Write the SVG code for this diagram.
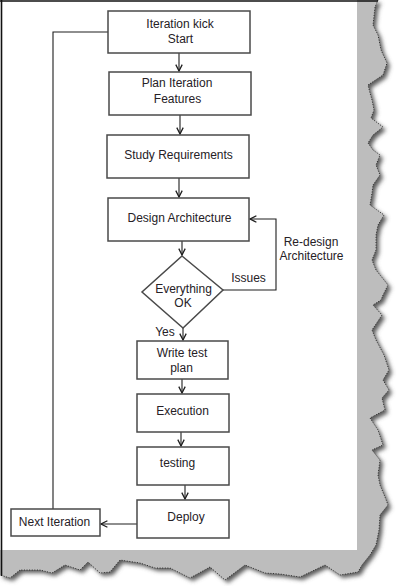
<svg xmlns="http://www.w3.org/2000/svg" width="400" height="586" viewBox="0 0 400 586">
<defs>
<style>
.box{fill:#fff;stroke:#4a4a4a;stroke-width:1.5}
.t{font-family:"Liberation Sans",Arial,sans-serif;font-size:12px;fill:#262126;text-anchor:middle}
.c{fill:none;stroke:#1e1e1e;stroke-width:1.1}
.edge{fill:none;stroke:#222;stroke-width:0.9;stroke-dasharray:1 1.6}
</style>
<marker id="ah" viewBox="0 0 10 10" refX="9" refY="5" markerWidth="8" markerHeight="8" markerUnits="userSpaceOnUse" orient="auto">
<path d="M1,1 L9,5 L1,9" fill="none" stroke="#1e1e1e" stroke-width="1.6"/>
</marker>
<filter id="blur" x="-10%" y="-10%" width="120%" height="120%"><feGaussianBlur stdDeviation="2.2"/></filter>
</defs>
<rect width="400" height="586" fill="#fff"/>
<g id="sheet">
<polygon transform="translate(3,3)" filter="url(#blur)" fill="#5a5a5a" points="378,0 375,7 373,25 378,35 381,50 387,63 383,75 368,85 370,93 372,100 374,110 371,118 383,127 373,135 368,143 373,150 380,155 376,165 380,175 373,185 372,193 370,205 384,215 378,225 376,235 376,250 372,260 376,270 388,285 383,295 381,300 373,305 382,315 372,330 376,340 384,355 389,370 383,380 389,390 382,398 385,410 370,418 378,430 383,445 372,450 380,460 378,475 380,485 385,497 388,505 380,515 379,530 376,545 370,555 362,565 358,572 340,575 325,565 300,577 280,574 265,573 245,565 225,580 210,567 190,578 170,568 155,568 140,563 120,560 110,572 100,573 88,562 80,570 65,565 52,573 40,570 20,570 10,578 0,575 0,0"/>
<polygon fill="#bdbdbd" points="378,0 375,7 373,25 378,35 381,50 387,63 383,75 368,85 370,93 372,100 374,110 371,118 383,127 373,135 368,143 373,150 380,155 376,165 380,175 373,185 372,193 370,205 384,215 378,225 376,235 376,250 372,260 376,270 388,285 383,295 381,300 373,305 382,315 372,330 376,340 384,355 389,370 383,380 389,390 382,398 385,410 370,418 378,430 383,445 372,450 380,460 378,475 380,485 385,497 388,505 380,515 379,530 376,545 370,555 362,565 358,572 340,575 325,565 300,577 280,574 265,573 245,565 225,580 210,567 190,578 170,568 155,568 140,563 120,560 110,572 100,573 88,562 80,570 65,565 52,573 40,570 20,570 10,578 0,575 0,0"/>
<polyline class="edge" points="378,0 375,7 373,25 378,35 381,50 387,63 383,75 368,85 370,93 372,100 374,110 371,118 383,127 373,135 368,143 373,150 380,155 376,165 380,175 373,185 372,193 370,205 384,215 378,225 376,235 376,250 372,260 376,270 388,285 383,295 381,300 373,305 382,315 372,330 376,340 384,355 389,370 383,380 389,390 382,398 385,410 370,418 378,430 383,445 372,450 380,460 378,475 380,485 385,497 388,505 380,515 379,530 376,545 370,555 362,565 358,572 340,575 325,565 300,577 280,574 265,573 245,565 225,580 210,567 190,578 170,568 155,568 140,563 120,560 110,572 100,573 88,562 80,570 65,565 52,573 40,570 20,570 10,578 0,575"/>
<rect x="0" y="0" width="357" height="550" fill="#fff"/>
<line x1="0" y1="1" x2="378" y2="1" stroke="#111" stroke-width="1.6"/>
<line x1="1.5" y1="0" x2="1.5" y2="576" stroke="#111" stroke-width="1.6"/>
</g>
<g id="connectors">
<line class="c" x1="179" y1="53" x2="179" y2="71" marker-end="url(#ah)"/>
<line class="c" x1="180" y1="115" x2="180" y2="134" marker-end="url(#ah)"/>
<line class="c" x1="179" y1="178" x2="179" y2="197" marker-end="url(#ah)"/>
<line class="c" x1="182" y1="241" x2="182" y2="255" marker-end="url(#ah)"/>
<line class="c" x1="183" y1="328" x2="183" y2="340" marker-end="url(#ah)"/>
<line class="c" x1="182" y1="379" x2="182" y2="393" marker-end="url(#ah)"/>
<line class="c" x1="181" y1="432" x2="181" y2="446" marker-end="url(#ah)"/>
<line class="c" x1="185" y1="485" x2="185" y2="499" marker-end="url(#ah)"/>
<line class="c" x1="137" y1="524" x2="101" y2="524" marker-end="url(#ah)"/>
<polyline class="c" points="53,509 53,32 108,32"/>
<polyline class="c" points="223,290 276,290 276,219 250,219" marker-end="url(#ah)"/>
<text class="t" x="311" y="246">Re-design</text>
<text class="t" x="311.5" y="260">Architecture</text>
<text class="t" x="248.5" y="282">Issues</text>
<text class="t" x="165" y="336">Yes</text>
</g>
<g id="kick"><rect class="box" x="108" y="11" width="142" height="42"/><text class="t" x="180" y="28">Iteration kick</text><text class="t" x="180.5" y="43">Start</text></g>
<g id="plan"><rect class="box" x="109" y="72" width="142" height="43"/><text class="t" x="177" y="87">Plan Iteration</text><text class="t" x="177.5" y="103">Features</text></g>
<g id="study"><rect class="box" x="107" y="135" width="142" height="43"/><text class="t" x="178.5" y="159">Study Requirements</text></g>
<g id="design"><rect class="box" x="108" y="198" width="141" height="43"/><text class="t" x="179.5" y="222">Design Architecture</text></g>
<g id="decision"><polygon class="box" points="182,256 223,290 183,328 142,292"/><text class="t" x="183.5" y="293">Everything</text><text class="t" x="183" y="307">OK</text></g>
<g id="testplan"><rect class="box" x="137" y="341" width="91" height="38"/><text class="t" x="182" y="357">Write test</text><text class="t" x="181.5" y="372">plan</text></g>
<g id="execution"><rect class="box" x="137" y="394" width="92" height="38"/><text class="t" x="182.5" y="415">Execution</text></g>
<g id="testing"><rect class="box" x="137" y="447" width="92" height="38"/><text class="t" x="177.5" y="467">testing</text></g>
<g id="deploy"><rect class="box" x="137" y="500" width="92" height="38"/><text class="t" x="186" y="521">Deploy</text></g>
<g id="next"><rect class="box" x="11" y="509" width="89" height="27"/><text class="t" x="54.5" y="526">Next Iteration</text></g>
</svg>
